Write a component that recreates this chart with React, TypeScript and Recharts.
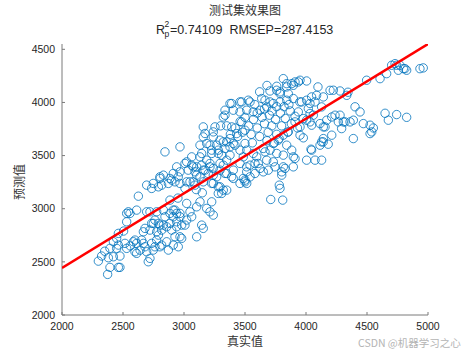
import React from 'react';
import { ScatterChart, Scatter, XAxis, YAxis } from 'recharts';

type Pt = [number, number];

const xTicks = [2000, 2500, 3000, 3500, 4000, 4500, 5000];
const yTicks = [2000, 2500, 3000, 3500, 4000, 4500];

const lowerLeft: Pt[] = [
  [2374, 2382], [2393, 2448], [2462, 2448], [2475, 2448], [2298, 2507], [2325, 2555], [2380, 2539],
  [2421, 2548], [2475, 2555], [2448, 2627], [2462, 2658], [2393, 2627], [2421, 2689], [2448, 2721],
  [2462, 2768], [2516, 2674], [2530, 2627], [2598, 2705], [2612, 2674], [2585, 2689], [2598, 2595],
  [2612, 2580], [2653, 2705], [2667, 2674], [2680, 2642], [2694, 2595], [2721, 2533], [2707, 2501],
  [2735, 2674], [2762, 2642], [2748, 2611], [2776, 2705], [2817, 2658], [2790, 2752], [2667, 2783],
  [2680, 2815], [2721, 2799], [2735, 2862], [2762, 2893], [2790, 2862], [2817, 2799], [2831, 2846],
  [2858, 2830], [2872, 2611], [2858, 2689], [2912, 2658], [2926, 2736], [2967, 2736], [2899, 2799],
  [2940, 2830], [2981, 2846], [2530, 2956], [2544, 2971], [2557, 2956], [2530, 2877], [2612, 2987],
  [2350, 2600], [2560, 2650], [2640, 2610], [2505, 2790], [2953, 2642], [2981, 2721], [3104, 2736],
  [3145, 2846], [3158, 2815], [3008, 2846], [2776, 2783], [2748, 2862], [2803, 2846], [2803, 2642],
];

const middleBand: Pt[] = [
  [2626, 3118], [2694, 3222], [2735, 3191], [2790, 3206], [2817, 3222], [2872, 3238], [2926, 3253],
  [2721, 2971], [2776, 2971], [2831, 2987], [2885, 2956], [2926, 2987], [2967, 2956], [2912, 2924],
  [2885, 2862], [2940, 2877], [2844, 2924], [2694, 2971], [2885, 3081], [2912, 2987], [2940, 2956],
  [2967, 2924], [3022, 3050], [3049, 2971], [3104, 3018], [3131, 3065], [3186, 3003], [3213, 2971],
  [3227, 3065], [3281, 3144], [3295, 3206], [3350, 3175], [3240, 2940], [3022, 2893], [3063, 2924],
  [2967, 3238], [3022, 3253], [3076, 3253], [3158, 3253], [3240, 3238], [3459, 3238], [3500, 3253],
  [2803, 3300], [2899, 3269], [2912, 3332], [2953, 3300], [3008, 3426], [3035, 3363], [3063, 3410],
  [3090, 3347], [3104, 3394], [3131, 3300], [3145, 3410], [3172, 3363], [3199, 3332], [3213, 3426],
  [3240, 3379], [3268, 3300], [3295, 3363], [3322, 3410], [3350, 3332], [3281, 3206], [3227, 3238],
  [3049, 3253], [3090, 3222], [3008, 3191], [2940, 3394], [2967, 3347], [3022, 3441], [3076, 3394],
  [3104, 3316], [3158, 3363], [3186, 3457], [3213, 3394], [3240, 3316], [3281, 3520], [3295, 3426],
  [3350, 3457], [3377, 3504], [3404, 3363], [3459, 3426], [3486, 3488], [3514, 3394], [2831, 3316],
  [2885, 3285], [2803, 3285], [2748, 3238], [3391, 3300], [2844, 3535], [2967, 3582], [3063, 3488],
  [3131, 3488], [3145, 3520], [3227, 3520], [3309, 3504], [2950, 3100], [3150, 3150], [3100, 3180],
];

const upperBand: Pt[] = [
  [3158, 3770], [3172, 3708], [3254, 3770], [3240, 3723], [3158, 3676], [3240, 3676], [3131, 3598],
  [3186, 3614], [3213, 3598], [3268, 3598], [3227, 3551], [3281, 3551], [3336, 3567], [3295, 3645],
  [3322, 3629], [3350, 3629], [3377, 3660], [3404, 3614], [3377, 3582], [3418, 3598], [3459, 3551],
  [3500, 3614], [3514, 3551], [3322, 3863], [3336, 3880], [3336, 3927], [3377, 3990], [3459, 4005],
  [3514, 3927], [3473, 3817], [3391, 3770], [3500, 3739], [3432, 3707], [3404, 3927], [3459, 3911],
  [3568, 3911], [3623, 3927], [3678, 3958], [3732, 3990], [3787, 4005], [3842, 4021], [3896, 4037],
  [3391, 3990], [3473, 4005], [3527, 4021], [3541, 4005], [3637, 4037], [3664, 4021], [3705, 4005],
  [3705, 4108], [3760, 4115], [3787, 4083], [3760, 4152], [3787, 4099], [3842, 4146], [3855, 4083],
  [3896, 4161], [3814, 4224], [3883, 4177], [3910, 4193], [3842, 4177], [3937, 4193], [3350, 3780],
  [3420, 3760], [3460, 3820], [3480, 3720], [3500, 3860], [3530, 3780], [3550, 3700], [3570, 3840],
  [3600, 3760], [3620, 3680], [3640, 3860], [3660, 3800], [3690, 3720], [3700, 3880], [3720, 3780],
  [3750, 3840], [3760, 3700], [3790, 3900], [3800, 3780], [3830, 3850], [3850, 3720], [3870, 3920],
  [3880, 3800], [3910, 3870], [3930, 3760], [3380, 3700], [3440, 3680], [3560, 3620], [3600, 3900],
  [3680, 3640], [3740, 3620], [3780, 3660], [3820, 3960], [3860, 3980], [3660, 3940], [3580, 3980],
  [3720, 3920], [3760, 3960], [3300, 3780], [3620, 4100], [3680, 4160], [3950, 4005], [3937, 3911],
  [3978, 3848], [3910, 3817], [3951, 3770], [3964, 4005], [3951, 3692], [3978, 3667],
];

const belowBand: Pt[] = [
  [3711, 3087], [3809, 3081], [3781, 3222], [3787, 3191], [3801, 3347], [3814, 3394], [3732, 3441],
  [3678, 3457], [3664, 3535], [3500, 3269], [3514, 3347], [3541, 3410], [3582, 3426], [3623, 3379],
  [3650, 3347], [3691, 3363], [3404, 3285], [3336, 3332], [3322, 3175], [3309, 3144], [3814, 3692],
  [3855, 3723], [3773, 3645], [3842, 3598], [3883, 3551], [3896, 3488], [3814, 3504], [3760, 3520],
  [3732, 3614], [3705, 3551], [3650, 3567], [3568, 3520], [3596, 3488], [3609, 3426], [3746, 3394],
  [3582, 3332], [3541, 3300], [3514, 3238], [3486, 3285], [3910, 3473], [3896, 3394], [3828, 3379],
  [3801, 3316], [4005, 3457], [4074, 3457], [4128, 3457], [4046, 3551], [4115, 3598], [4041, 3560],
  [4141, 3629], [4182, 3607], [4128, 3629], [4005, 3833], [4033, 3896],
];

const rightTail: Pt[] = [
  [4005, 4202], [3951, 4209], [4098, 4146], [4224, 4115], [4279, 4108], [4334, 4067], [4197, 4114],
  [4344, 4096], [4087, 4067], [4128, 3958], [4046, 4052], [4074, 4005], [4142, 4052], [4019, 3942],
  [4060, 3880], [4033, 3817], [4046, 3786], [4115, 3801], [4170, 3833], [4211, 3863], [4238, 3880],
  [4142, 3770], [4211, 3692], [4142, 3660], [4156, 3770], [4292, 3754], [4320, 3817], [4265, 3817],
  [4388, 3833], [4279, 3880], [4306, 3817], [4361, 3817], [4402, 3959], [4443, 3911], [4470, 3801],
  [4525, 3786], [4552, 3760], [4525, 3707], [4539, 3723], [4388, 3660], [4648, 3898], [4743, 3886],
  [4825, 3860], [4675, 3833], [4607, 4224], [4661, 4271], [4497, 4209], [4702, 4350], [4730, 4365],
  [4770, 4350], [4798, 4318], [4825, 4303], [4757, 4303], [4743, 4350], [4811, 4318], [4934, 4318],
  [4961, 4325], [4005, 4021], [4033, 3990],
];

// fitted line, end points at the x limits
const fitX = [2000, 5000];
const fitY = [2442, 4550];

const points = [...lowerLeft, ...middleBand, ...upperBand, ...belowBand, ...rightTail].map(([x, y]) => ({ x, y }));
const fitLine = fitX.map((x, i) => ({ x, y: fitY[i] }));

const axisColor = '#7a7a7a';
const textColor = '#262626';
const tickFont = { fill: textColor, fontSize: 10.5, fontFamily: '"Liberation Sans", Arial, sans-serif' };
const cjk = '"Noto Sans CJK SC", sans-serif';

const Ring = (props: any) => {
  const { cx, cy } = props;
  if (cx == null || cy == null) return <g />;
  return <circle cx={cx} cy={cy} r={4.2} fill="none" stroke="#0072BD" strokeWidth={0.8} />;
};

const Nothing = () => <g />;

export default function App() {
  return (
    <div style={{ position: 'absolute', left: 0, top: 0, width: 474, height: 355, background: '#fff' }}>
      <ScatterChart width={474} height={355} margin={{ top: 44, right: 46, bottom: 0, left: 0 }}>
        <XAxis
          type="number"
          dataKey="x"
          domain={[2000, 5000]}
          ticks={xTicks}
          height={40}
          allowDataOverflow
          tick={tickFont}
          tickSize={-3}
          tickMargin={11}
          axisLine={{ stroke: axisColor }}
          tickLine={{ stroke: axisColor }}
        />
        <XAxis
          xAxisId="top"
          orientation="top"
          type="number"
          domain={[2000, 5000]}
          ticks={xTicks}
          height={0}
          tick={false}
          tickSize={-3}
          axisLine={{ stroke: axisColor }}
          tickLine={{ stroke: axisColor }}
        />
        <YAxis
          type="number"
          dataKey="y"
          domain={[2000, 4550]}
          ticks={yTicks}
          width={62}
          allowDataOverflow
          tick={tickFont}
          tickSize={-3}
          tickMargin={10}
          axisLine={{ stroke: axisColor }}
          tickLine={{ stroke: axisColor }}
        />
        <YAxis
          yAxisId="right"
          orientation="right"
          type="number"
          domain={[2000, 4550]}
          ticks={yTicks}
          width={0}
          tick={false}
          tickSize={-3}
          axisLine={{ stroke: axisColor }}
          tickLine={{ stroke: axisColor }}
        />
        <Scatter data={points} shape={Ring} isAnimationActive={false} />
        <Scatter
          data={fitLine}
          line={{ stroke: '#FF0000', strokeWidth: 2.5 }}
          shape={Nothing}
          isAnimationActive={false}
        />
      </ScatterChart>
      <svg
        width={474}
        height={355}
        style={{ position: 'absolute', left: 0, top: 0, pointerEvents: 'none' }}
      >
        <text x={245} y={15} textAnchor="middle" fontSize={12} fontFamily={cjk} fill="#333">
          测试集效果图
        </text>
        <text x={156} y={34} fontSize={12.5} fontFamily='"Liberation Sans", Arial, sans-serif' fill={textColor}>
          R
        </text>
        <text x={164.5} y={27} fontSize={8.5} fontFamily='"Liberation Sans", Arial, sans-serif' fill={textColor}>
          2
        </text>
        <text x={164.5} y={37} fontSize={8.5} fontFamily='"Liberation Sans", Arial, sans-serif' fill={textColor}>
          p
        </text>
        <text
          x={170}
          y={34}
          fontSize={12.5}
          fontFamily='"Liberation Sans", Arial, sans-serif'
          fill={textColor}
          style={{ whiteSpace: 'pre' }}
        >
          =0.74109  RMSEP=287.4153
        </text>
        <text x={245} y={346} textAnchor="middle" fontSize={12} fontFamily={cjk} fill="#333">
          真实值
        </text>
        <text
          x={0}
          y={0}
          transform="translate(24,182) rotate(-90)"
          textAnchor="middle"
          fontSize={12}
          fontFamily={cjk}
          fill="#333"
        >
          预测值
        </text>
        <text x={358} y={347} fontSize={10.5} fontFamily={cjk} fill="#b4b4b4">
          CSDN @机器学习之心
        </text>
      </svg>
    </div>
  );
}
